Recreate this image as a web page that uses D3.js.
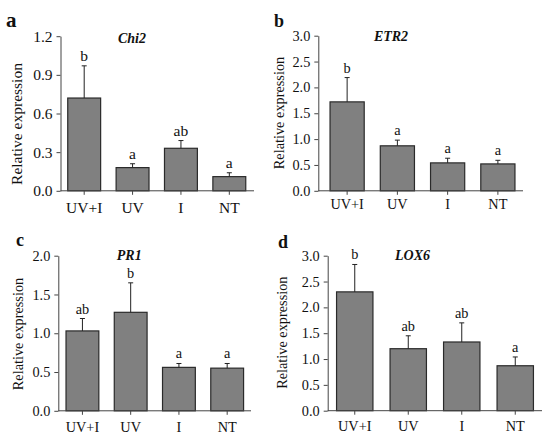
<!DOCTYPE html>
<html>
<head>
<meta charset="utf-8">
<script src="https://cdn.jsdelivr.net/npm/d3@7"></script>
<style>
  body { margin: 0; background: #fff; }
  text { font-family: "Liberation Serif", "Times New Roman", serif; fill: #111; }
</style>
</head>
<body>
<div id="chart"></div>
<script>
// Shared categories
const categories = ['UV+I', 'UV', 'I', 'NT'];

// a - Chi2
const chi2Values = [0.72, 0.18, 0.33, 0.11];
const chi2Errors = [0.25, 0.03, 0.06, 0.03];
const chi2Letters = ['b', 'a', 'ab', 'a'];
const chi2Ticks = [0.0, 0.3, 0.6, 0.9, 1.2];

// b - ETR2
const etr2Values = [1.72, 0.87, 0.54, 0.52];
const etr2Errors = [0.47, 0.11, 0.09, 0.07];
const etr2Letters = ['b', 'a', 'a', 'a'];
const etr2Ticks = [0.0, 0.5, 1.0, 1.5, 2.0, 2.5, 3.0];

// c - PR1
const pr1Values = [1.03, 1.27, 0.56, 0.55];
const pr1Errors = [0.16, 0.38, 0.05, 0.06];
const pr1Letters = ['ab', 'b', 'a', 'a'];
const pr1Ticks = [0.0, 0.5, 1.0, 1.5, 2.0];

// d - LOX6
const lox6Values = [2.30, 1.20, 1.33, 0.87];
const lox6Errors = [0.53, 0.25, 0.37, 0.17];
const lox6Letters = ['b', 'ab', 'ab', 'a'];
const lox6Ticks = [0.0, 0.5, 1.0, 1.5, 2.0, 2.5, 3.0];

const svg = d3.select('#chart').append('svg')
    .attr('width', 550)
    .attr('height', 442);

// panel layout (pixels)
const panels = [
    { tag: 'a', gene: 'Chi2', values: chi2Values, errors: chi2Errors, letters: chi2Letters, ticks: chi2Ticks,
      left: 60.5, right: 254, top: 36.2, bottom: 190.8, xr: [60, 253.5], fs: 15.5,
      tagPos: [6, 26.5], tagSize: 21, titlePos: [132, 43], ylabPos: [16.7, 124], xlabOff: 22 },
    { tag: 'b', gene: 'ETR2', values: etr2Values, errors: etr2Errors, letters: etr2Letters, ticks: etr2Ticks,
      left: 318.3, right: 523, top: 35.7, bottom: 190.8, xr: [322, 523], fs: 14.3,
      tagPos: [274, 27.3], tagSize: 18, titlePos: [391, 40.5], ylabPos: [279, 113], xlabOff: 18 },
    { tag: 'c', gene: 'PR1', values: pr1Values, errors: pr1Errors, letters: pr1Letters, ticks: pr1Ticks,
      left: 58.3, right: 251, top: 255.7, bottom: 410.8, xr: [58.3, 251.3], fs: 14.3,
      tagPos: [16, 246], tagSize: 18, titlePos: [129.2, 260.3], ylabPos: [18.3, 334], xlabOff: 21.5 },
    { tag: 'd', gene: 'LOX6', values: lox6Values, errors: lox6Errors, letters: lox6Letters, ticks: lox6Ticks,
      left: 327.7, right: 542, top: 255.7, bottom: 410.7, xr: [328, 542], fs: 14.3,
      tagPos: [278, 248.3], tagSize: 18, titlePos: [412.5, 260], ylabPos: [282.3, 332.7], xlabOff: 20.5 }
];

function drawPanel(p) {
    const g = svg.append('g');
    const data = categories.map((c, i) => ({ cat: c, v: p.values[i], e: p.errors[i], lab: p.letters[i] }));

    const x = d3.scaleBand()
        .domain(categories)
        .range(p.xr)
        .paddingInner(0.32)
        .paddingOuter(0.16);

    const y = d3.scaleLinear()
        .domain([0, d3.max(p.ticks)])
        .range([p.bottom, p.top]);

    // bars
    g.selectAll('.bar')
        .data(data)
        .enter().append('rect')
        .attr('x', d => x(d.cat))
        .attr('y', d => y(d.v))
        .attr('width', x.bandwidth())
        .attr('height', d => p.bottom - y(d.v))
        .attr('fill', '#808080')
        .attr('stroke', '#2a2a2a')
        .attr('stroke-width', 1.2);

    // upper error bars
    const cx = d => x(d.cat) + x.bandwidth() / 2;
    g.selectAll('.err')
        .data(data)
        .enter().append('path')
        .attr('d', d => `M${cx(d)},${y(d.v)}V${y(d.v + d.e)}M${cx(d) - 2.5},${y(d.v + d.e)}H${cx(d) + 2.5}`)
        .attr('stroke', '#222')
        .attr('stroke-width', 1)
        .attr('fill', 'none');

    // significance letters
    g.selectAll('.sig')
        .data(data)
        .enter().append('text')
        .attr('x', cx)
        .attr('y', d => y(d.v + d.e) - 5)
        .attr('text-anchor', 'middle')
        .style('font-size', p.fs + 'px')
        .text(d => d.lab);

    // y axis
    const yAxis = g.append('g')
        .attr('transform', `translate(${p.left},0)`)
        .call(d3.axisLeft(y).tickValues(p.ticks).tickFormat(d3.format('.1f'))
            .tickSize(4).tickSizeOuter(0).tickPadding(4));
    yAxis.selectAll('text').style('font-size', p.fs + 'px').style('font-family', '"Liberation Serif", serif');
    yAxis.selectAll('line, path').attr('stroke', '#444');

    // x axis
    const xAxis = g.append('g')
        .attr('transform', `translate(0,${p.bottom})`)
        .call(d3.axisBottom(x).tickSize(4).tickSizeOuter(0)
            .tickPadding(p.xlabOff - 4 - 0.71 * p.fs));
    xAxis.select('.domain').remove();
    xAxis.selectAll('text').style('font-size', p.fs + 'px').style('font-family', '"Liberation Serif", serif');
    xAxis.selectAll('line').attr('stroke', '#444');
    g.append('line')
        .attr('x1', p.left).attr('x2', p.right)
        .attr('y1', p.bottom).attr('y2', p.bottom)
        .attr('stroke', '#444');

    // y axis label
    g.append('text')
        .attr('transform', `translate(${p.ylabPos[0]},${p.ylabPos[1]}) rotate(-90)`)
        .attr('dy', '0.32em')
        .attr('text-anchor', 'middle')
        .style('font-size', p.fs + 'px')
        .text('Relative expression');

    // gene title
    g.append('text')
        .attr('x', p.titlePos[0])
        .attr('y', p.titlePos[1])
        .attr('text-anchor', 'middle')
        .style('font-size', '14px')
        .style('font-weight', 'bold')
        .style('font-style', 'italic')
        .text(p.gene);

    // panel tag
    g.append('text')
        .attr('x', p.tagPos[0])
        .attr('y', p.tagPos[1])
        .style('font-size', p.tagSize + 'px')
        .style('font-weight', 'bold')
        .text(p.tag);
}

panels.forEach(drawPanel);
</script>
</body>
</html>
